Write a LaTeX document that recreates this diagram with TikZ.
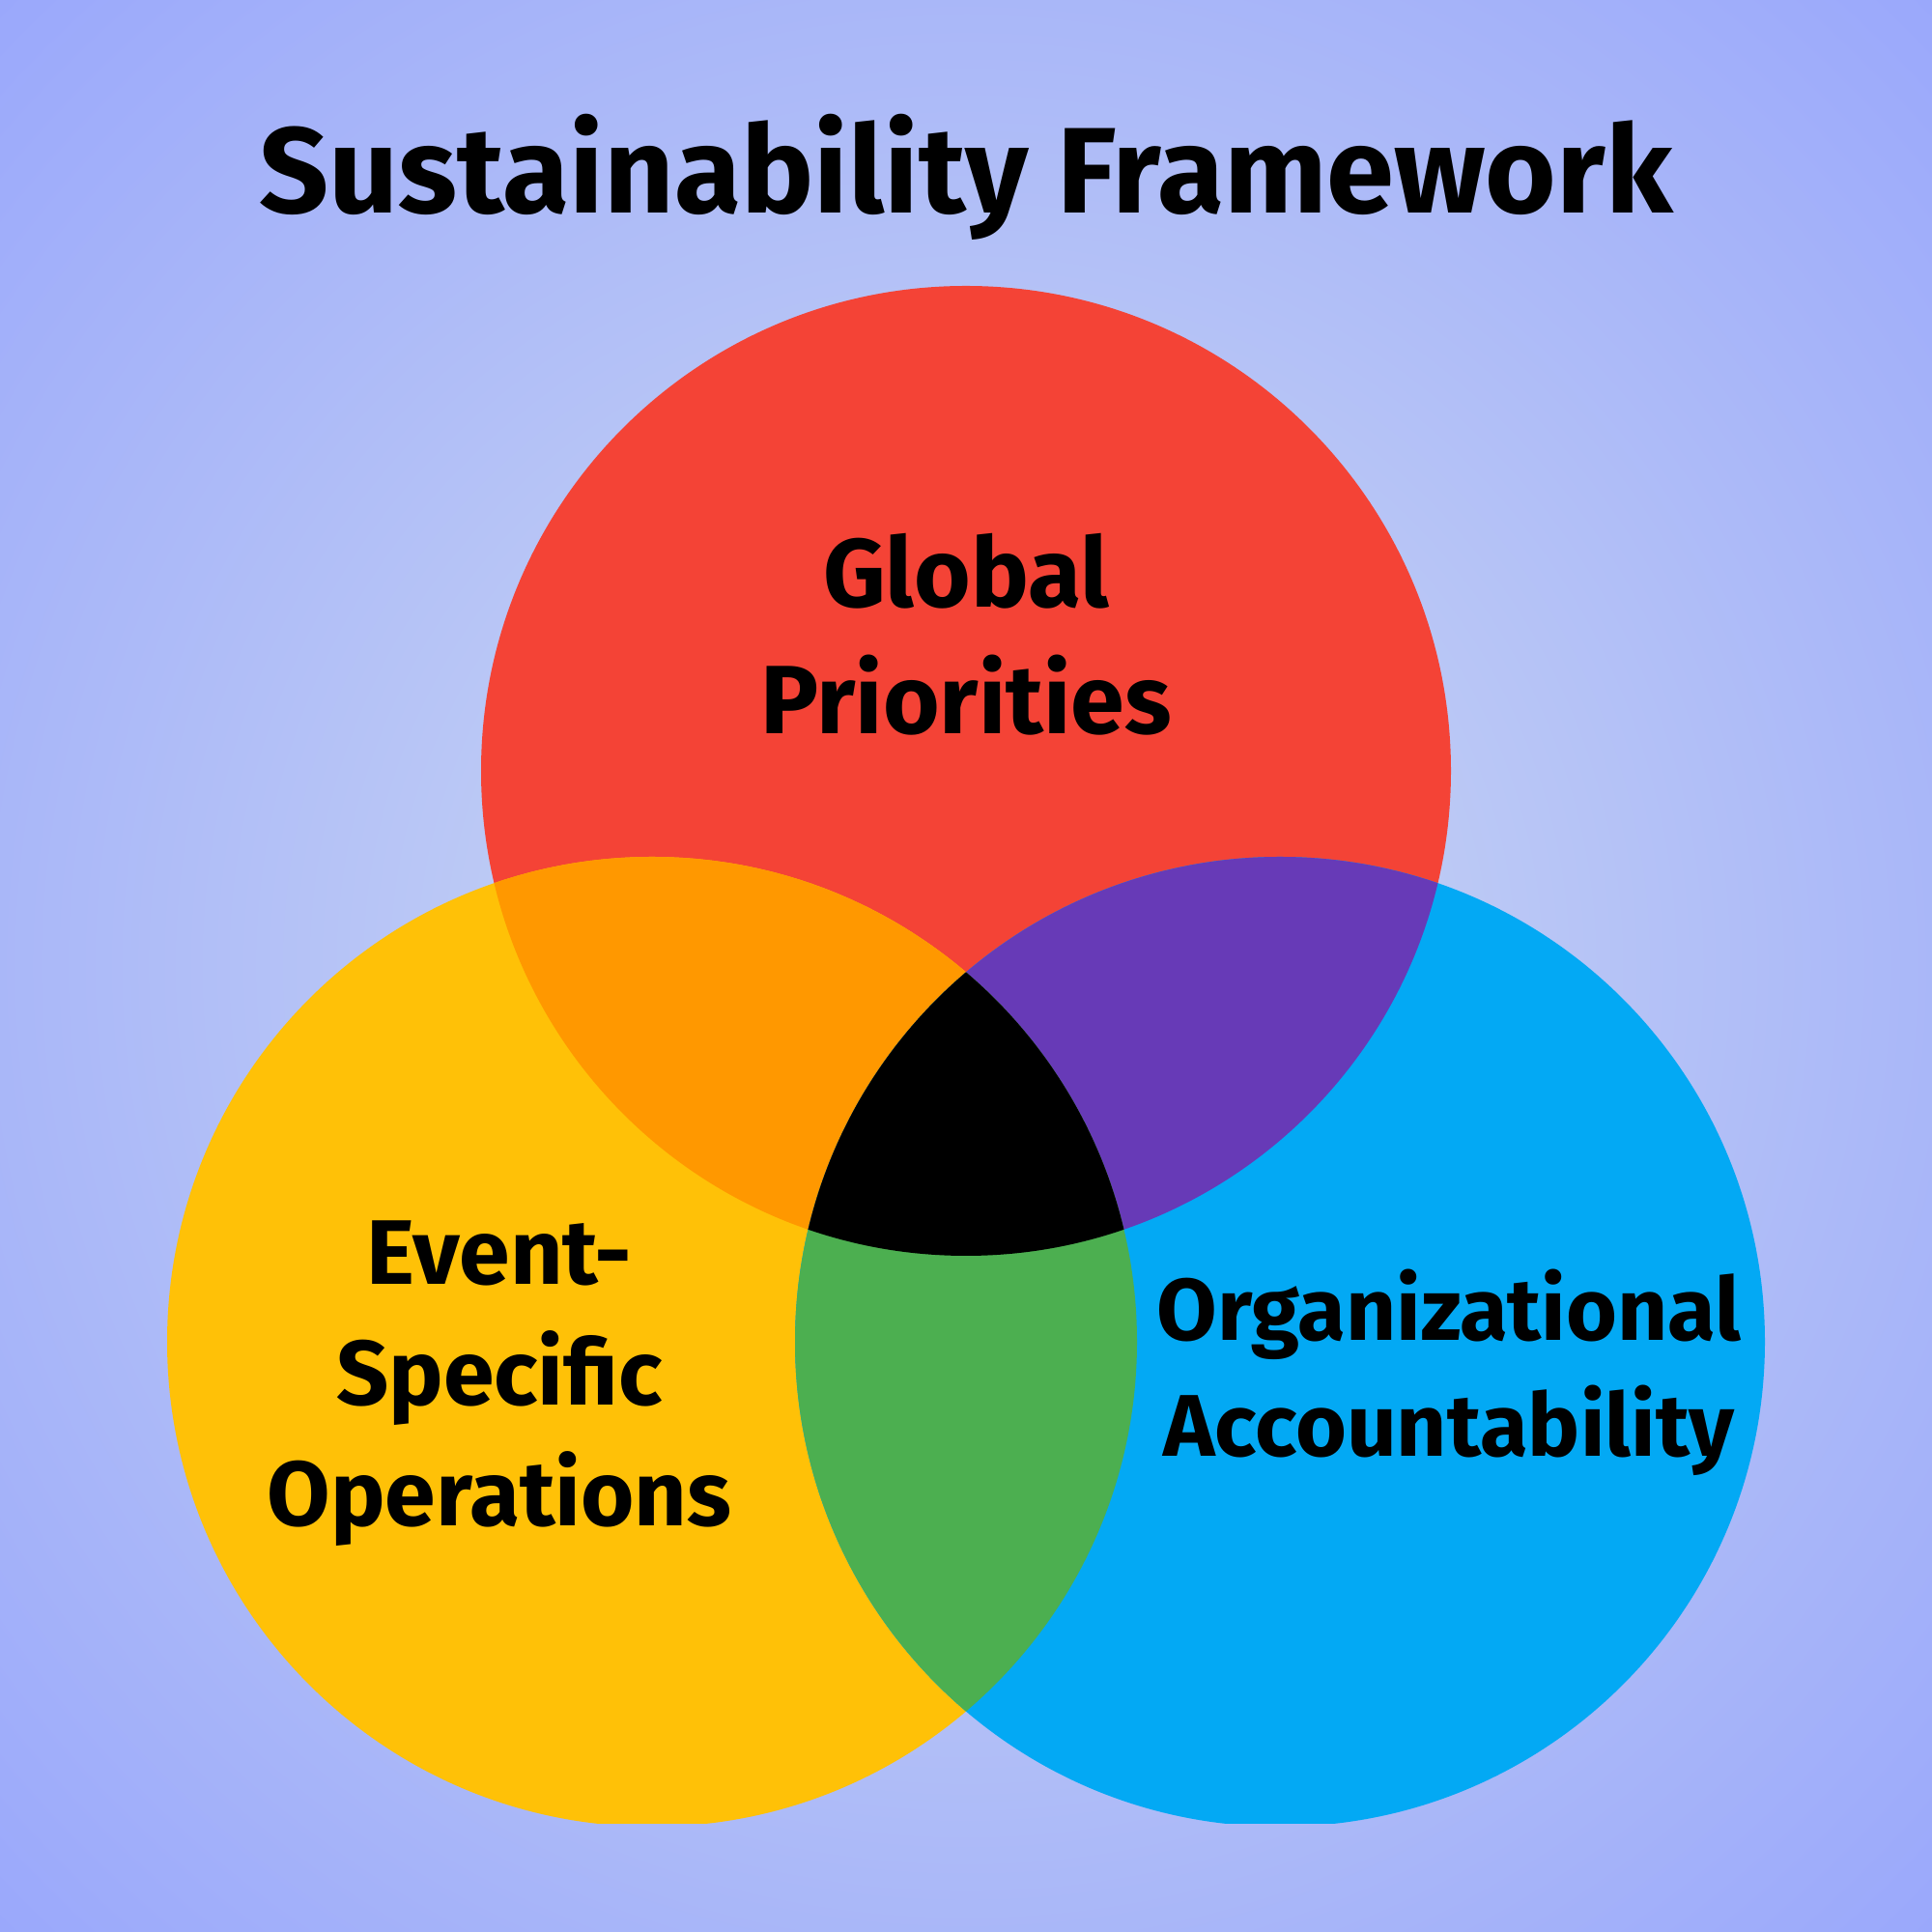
\documentclass[tikz,border=0pt]{standalone}
\usepackage{fontspec}
\setmainfont{Fira Sans}
\definecolor{bginner}{RGB}{206,219,242}
\definecolor{bgouter}{RGB}{154,168,251}
\definecolor{globalred}{HTML}{F44336}
\definecolor{eventyellow}{HTML}{FFC107}
\definecolor{orgblue}{HTML}{03A9F4}
\definecolor{mixorange}{HTML}{FF9800}
\definecolor{mixpurple}{HTML}{673AB7}
\definecolor{mixgreen}{HTML}{4CAF50}

\begin{document}
\begin{tikzpicture}
\useasboundingbox (0,0) rectangle (20,20);
\begin{scope}
\clip (0,0) rectangle (20,20);
\shade[inner color=bginner, outer color=bgouter] (10,10) circle (14.15);
\end{scope}

\begin{scope}
\clip (0,1.12) rectangle (20,20);
\fill[globalred] (10,12.02) circle (5.02);
\fill[eventyellow] (6.75,6.11) circle (5.02);
\fill[orgblue] (13.25,6.11) circle (5.02);
\begin{scope}
\clip (10,12.02) circle (5.02);
\fill[mixorange] (6.75,6.11) circle (5.02);
\fill[mixpurple] (13.25,6.11) circle (5.02);
\end{scope}
\begin{scope}
\clip (6.75,6.11) circle (5.02);
\fill[mixgreen] (13.25,6.11) circle (5.02);
\clip (13.25,6.11) circle (5.02);
\fill[black] (10,12.02) circle (5.02);
\end{scope}
\end{scope}

\node[font=\fontsize{35.9}{43}\selectfont\bfseries, text=black, anchor=base, inner sep=0] (title) at (10,17.79) {Sustainability Framework};
\node[font=\fontsize{28.6}{37.5}\selectfont\bfseries, text=black, align=center, anchor=base, inner sep=0] (global) at (10,12.40) {Global\\Priorities};
\node[font=\fontsize{27}{35.6}\selectfont\bfseries, text=black, align=center, anchor=base, inner sep=0] (event) at (5.17,4.20) {Event-\\Specific\\Operations};
\node[font=\fontsize{25.8}{34.4}\selectfont\bfseries, text=black, align=center, anchor=base, inner sep=0] (org) at (15.0,4.92) {Organizational\\Accountability};
\end{tikzpicture}
\end{document}
